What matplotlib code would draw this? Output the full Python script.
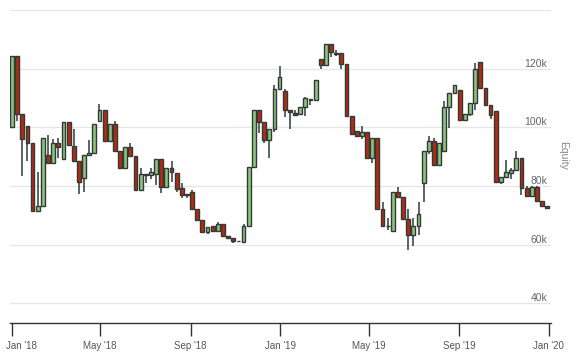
import datetime as dt
import matplotlib
matplotlib.use("Agg")
import matplotlib.pyplot as plt
import matplotlib.dates as mdates
import matplotlib.transforms as mtransforms

plt.rcParams["font.family"] = ["Liberation Sans", "DejaVu Sans"]

# weekly candles (values in thousands), first week starts Mon 2018-01-01
start_date = dt.date(2018, 1, 1)
opens = [100.0, 124.3, 104.4, 100.3, 94.5, 71.4, 73.3, 90.6, 87.7, 94.7,
         89.1, 101.7, 93.8, 88.4, 82.7, 90.4, 91.4, 102.0, 105.8, 95.5,
         101.3, 91.8, 86.3, 93.3, 90.1, 78.6, 84.1, 83.6, 84.0, 89.1,
         79.8, 86.3, 84.3, 79.2, 77.0, 77.8, 72.3, 68.3, 64.3, 66.5,
         64.8, 67.2, 62.9, 62.4, 61.4, 61.0, 66.3, 86.6, 105.8, 101.7,
         95.6, 99.3, 112.9, 112.3, 105.8, 105.0, 104.7, 107.1, 109.7, 109.2,
         123.2, 121.1, 128.3, 124.9, 125.4, 121.5, 103.7, 98.6, 96.9, 98.3,
         89.7, 96.2, 72.3, 66.5, 64.5, 77.8, 76.4, 68.9, 63.4, 66.5,
         80.9, 91.8, 95.2, 87.3, 91.8, 107.1, 111.6, 112.6, 102.4, 104.7,
         108.2, 122.2, 113.3, 107.5, 105.4, 81.2, 83.2, 84.3, 85.3, 89.7,
         79.2, 76.7, 79.6, 74.8, 73.1]
highs = [124.3, 124.3, 104.4, 100.3, 94.5, 84.7, 96.2, 97.3, 95.9, 96.5,
         101.7, 101.7, 99.4, 88.4, 90.4, 95.6, 101.0, 107.9, 105.8, 101.3,
         102.0, 91.8, 93.3, 94.8, 90.1, 86.3, 84.1, 86.3, 89.1, 89.1,
         86.3, 88.6, 84.3, 81.0, 77.2, 78.5, 72.3, 68.3, 66.0, 66.5,
         67.6, 67.2, 62.9, 62.4, 61.4, 67.0, 86.6, 105.8, 105.8, 101.7,
         99.3, 114.5, 120.9, 113.0, 105.8, 106.0, 107.1, 110.5, 109.7, 116.0,
         123.2, 128.3, 128.3, 126.5, 125.4, 121.5, 103.7, 98.6, 100.4, 98.3,
         96.2, 96.2, 74.5, 69.0, 77.8, 79.8, 76.4, 72.3, 69.0, 74.4,
         91.8, 97.2, 96.5, 94.5, 109.0, 111.6, 114.6, 112.6, 104.7, 108.2,
         121.8, 122.2, 113.3, 107.5, 105.4, 83.1, 88.8, 86.3, 92.0, 89.7,
         80.0, 80.0, 80.0, 74.8, 73.1]
lows = [100.0, 102.2, 83.3, 88.5, 71.4, 71.4, 73.3, 87.7, 87.7, 89.6,
        89.1, 93.5, 88.4, 77.4, 78.1, 90.4, 91.4, 102.0, 95.5, 95.5,
        92.1, 86.3, 86.3, 90.2, 78.6, 78.6, 81.0, 82.5, 80.4, 77.7,
        79.8, 81.3, 78.0, 76.0, 75.8, 72.3, 68.3, 64.3, 63.5, 64.8,
        64.8, 62.9, 62.4, 60.6, 61.2, 61.0, 66.3, 86.6, 98.1, 94.5,
        89.6, 98.5, 112.9, 103.6, 99.6, 104.1, 104.7, 103.7, 107.5, 109.2,
        120.0, 121.1, 124.0, 124.2, 120.0, 103.7, 97.6, 96.9, 95.9, 89.7,
        87.7, 72.3, 66.5, 65.0, 64.5, 76.4, 68.9, 58.3, 59.7, 63.4,
        74.4, 91.0, 87.3, 87.3, 91.8, 99.8, 111.6, 102.4, 102.0, 104.0,
        106.0, 113.3, 107.5, 103.0, 81.2, 80.6, 83.2, 82.5, 85.3, 77.0,
        76.7, 76.7, 74.8, 73.1, 72.4]
closes = [124.3, 104.4, 95.9, 94.5, 71.4, 73.3, 96.2, 87.7, 94.7, 93.3,
          101.7, 93.9, 88.4, 81.3, 90.4, 91.4, 101.0, 105.8, 95.5, 101.3,
          92.1, 86.3, 93.3, 90.2, 78.6, 84.0, 83.9, 84.7, 89.1, 79.8,
          86.3, 84.9, 79.0, 77.1, 77.2, 72.3, 68.3, 64.3, 66.0, 64.8,
          67.2, 62.9, 62.4, 61.4, 61.2, 66.5, 86.6, 105.8, 101.7, 95.6,
          99.3, 112.9, 117.0, 105.8, 105.2, 104.1, 107.1, 109.9, 109.2, 116.0,
          121.1, 128.3, 125.7, 125.4, 121.5, 103.7, 97.6, 96.9, 98.3, 89.7,
          96.2, 72.3, 66.5, 66.2, 77.8, 76.4, 68.9, 63.4, 66.5, 70.3,
          91.8, 95.2, 87.3, 94.5, 107.1, 111.6, 114.6, 102.4, 104.7, 108.2,
          119.8, 113.3, 107.5, 104.1, 81.2, 83.1, 84.9, 85.4, 89.7, 79.2,
          76.7, 79.6, 74.8, 73.1, 72.4]

y_ticks = [40, 60, 80, 100, 120]
grid_levels = [40, 60, 80, 100, 120, 140]
x_tick_dates = [dt.date(2018, 1, 1), dt.date(2018, 5, 1), dt.date(2018, 9, 1),
                dt.date(2019, 1, 1), dt.date(2019, 5, 1), dt.date(2019, 9, 1),
                dt.date(2020, 1, 1)]

up_color = "#90c27a"
down_color = "#b9290f"
edge_color = "#2f3a3a"

dates = [start_date + dt.timedelta(weeks=i) for i in range(len(opens))]
xs = mdates.date2num(dates)

fig = plt.figure(figsize=(5.8, 3.6), dpi=100)
ax = fig.add_axes([10 / 580, 37 / 360, 541 / 580, 313 / 360])

for lvl in grid_levels:
    ax.axhline(lvl, color="#e6e6e6", lw=1, zorder=0)

colors = [up_color if c >= o else down_color for o, c in zip(opens, closes)]
ax.vlines(xs, lows, highs, color=edge_color, lw=1.1, zorder=1)
bottoms = [min(o, c) for o, c in zip(opens, closes)]
heights = [abs(c - o) for o, c in zip(opens, closes)]
ax.bar(xs, heights, bottom=bottoms, width=5.2, color=colors,
       edgecolor=edge_color, linewidth=1.0, zorder=2)

ax.set_xlim(mdates.date2num(dt.date(2017, 12, 29)) + 0.3,
            mdates.date2num(dt.date(2020, 1, 4)) + 0.2)
ax.set_ylim(33.3, 140)

for s in ["top", "right", "left"]:
    ax.spines[s].set_visible(False)
ax.spines["bottom"].set_color("#333333")
ax.spines["bottom"].set_linewidth(1.0)

ax.set_yticks([])
ax.set_xticks(mdates.date2num(x_tick_dates))
ax.set_xticklabels([d.strftime("%b '%y") for d in x_tick_dates])
ax.tick_params(axis="x", length=9, width=1, color="#333333",
               labelsize=7, labelcolor="#555555", pad=4)

# first label is pushed right so it stays inside the figure
first = ax.get_xticklabels()[0]
first.set_ha("left")
first.set_transform(first.get_transform() +
                    mtransforms.ScaledTranslation(-4 / 72, 0, fig.dpi_scale_trans))

trans = mtransforms.blended_transform_factory(ax.transAxes, ax.transData)
for v in y_ticks:
    ax.text(0.993, v + 0.7, f"{v}k", transform=trans, ha="right", va="baseline",
            fontsize=7.5, color="#666666")

fig.text(563 / 580, 1 - 155 / 360, "Equity", rotation=270, ha="center",
         va="center", fontsize=7.5, color="#888888")

fig.savefig("out.png", dpi=100)
